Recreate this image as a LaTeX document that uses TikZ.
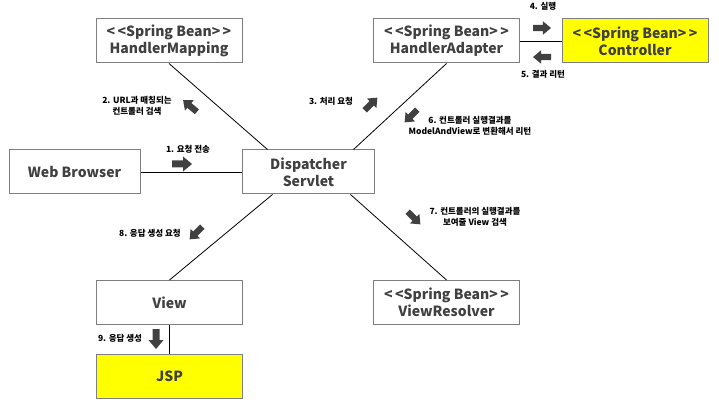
\documentclass[tikz,border=0pt]{standalone}
\usepackage{fontspec}
\setmainfont{Noto Sans CJK KR}
\definecolor{boxline}{HTML}{7F7F7F}
\definecolor{boxtext}{HTML}{404040}
\definecolor{arrowgray}{HTML}{404040}
\definecolor{beanyellow}{HTML}{FFFF00}
\tikzset{
  box/.style={draw=boxline, line width=1pt, fill=white, text=boxtext,
    minimum width=146pt, minimum height=44pt, align=center, inner sep=0pt,
    font=\fontsize{14}{17}\selectfont\bfseries},
  bean/.style={box, fill=beanyellow},
  note/.style={font=\fontsize{8.5}{11}\selectfont\bfseries, align=center, inner sep=0pt},
  steparrow/.pic={
    \fill[arrowgray] (-10,-3.5) -- (1,-3.5) -- (1,-7.5) -- (10,0)
      -- (1,7.5) -- (1,3.5) -- (-10,3.5) -- cycle;
  },
}
\begin{document}
\begin{tikzpicture}[x=1pt, y=-1pt]
      \useasboundingbox (0,0) rectangle (719,403);
      \draw
        (169,41) node[box] (hm){<\,<Spring Bean>\,>\\HandlerMapping}
        (446.5,41) node[box] (ha){<\,<Spring Bean>\,>\\HandlerAdapter}
        (635,41) node[bean] (ctrl){<\,<Spring Bean>\,>\\Controller}
        (74.5,172) node[box, minimum width=131pt] (wb){Web Browser}
        (308.5,172) node[box, minimum width=132pt] (ds){Dispatcher\\Servlet}
        (169.5,302.5) node[box] (view){View}
        (169.5,376) node[bean] (jsp){JSP}
        (446.5,302.5) node[box] (vr){<\,<Spring Bean>\,>\\ViewResolver};
      \begin{scope}[-, line width=0.8pt]
        \draw (wb) to (ds);
        \draw (hm.south) to ([xshift=25.5pt]ds.north west);
        \draw (ha.south) to ([xshift=-21.5pt]ds.north east);
        \draw (ha) to (ctrl);
        \draw ([xshift=30.5pt]ds.south west) to (view.north);
        \draw ([xshift=-24.5pt]ds.south east) to (vr.north);
        \draw (view) to (jsp);
      \end{scope}
      % step arrows
      \pic at (182,164) {steparrow};
      \node[note] (n1) at (188,149) {1. 요청 전송};
      \pic[rotate=140, scale=0.9] at (190,106) {steparrow};
      \node[note] (n2) at (137,106) {2. URL과 매칭되는\\컨트롤러 검색};
      \pic[rotate=45, scale=0.9] at (371,104) {steparrow};
      \node[note] (n3) at (331,101) {3. 처리 요청};
      \pic[scale=0.9] at (542,28) {steparrow};
      \node[note] (n4) at (543,6) {4. 실행};
      \pic[rotate=180, scale=0.9] at (542,57) {steparrow};
      \node[note] (n5) at (543,74) {5. 결과 리턴};
      \pic[rotate=225, scale=0.9] at (411,116) {steparrow};
      \node[note] (n6) at (470,125.5) {6. 컨트롤러 실행결과를\\ModelAndView로 변환해서 리턴};
      \pic[rotate=-45, scale=0.9] at (414,218) {steparrow};
      \node[note] (n7) at (475,217) {7. 컨트롤러의 실행결과를\\보여줄 View 검색};
      \pic[rotate=225, scale=0.9] at (196,233) {steparrow};
      \node[note] (n8) at (150,233) {8. 응답 생성 요청};
      \pic[rotate=-90] at (156,339) {steparrow};
      \node[note] (n9) at (120,338) {9. 응답 생성};
    \end{tikzpicture}
\end{document}
